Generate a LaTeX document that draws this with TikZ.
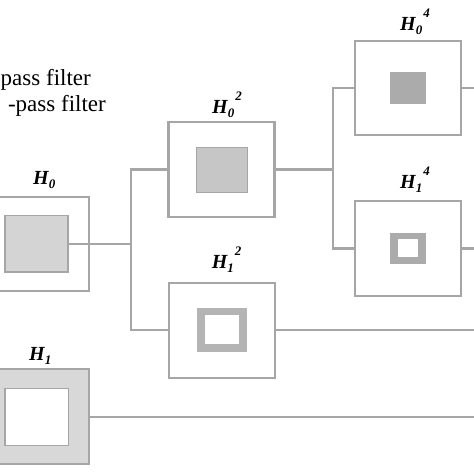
\documentclass[tikz,border=0pt]{standalone}
\usepackage{fontspec}
\setmainfont{Liberation Serif}
\definecolor{linegray}{HTML}{A6A6A6}
\definecolor{fillA}{HTML}{D4D4D4}
\definecolor{fillB}{HTML}{C6C6C6}
\definecolor{fillC}{HTML}{ABABAB}
\definecolor{fillD}{HTML}{B4B4B4}
\definecolor{fillE}{HTML}{D8D8D8}
\newcommand{\lsub}[1]{\raisebox{-0.22em}{\fontsize{13}{13}\selectfont #1}}
\newcommand{\lsup}[1]{\raisebox{0.62em}{\fontsize{13}{13}\selectfont #1}}
\begin{document}
\begin{tikzpicture}[x=1pt,y=-1pt,
  outerbox/.style={draw=linegray,line width=2.1pt,fill=white,minimum width=106pt,minimum height=94.5pt,inner sep=0pt},
  innerbox/.style={draw=linegray,line width=1.3pt,inner sep=0pt},
  wire/.style={draw=linegray,line width=2.1pt},
  hlabel/.style={anchor=base west,inner sep=0pt,font=\fontsize{20}{20}\selectfont\bfseries\itshape},
  legend/.style={anchor=base east,inner sep=0pt,font=\fontsize{23}{23}\selectfont}]
\useasboundingbox (0,0) rectangle (474,474);
\clip (0,0) rectangle (474,474);

% legend text
\node[legend] (lp) at (91,85.7) {pass filter};
\node[legend] (hp) at (106,111.7) {-pass filter};

% H0 level 1
\node[outerbox] (H0) at (36,243.85) {};
\node[innerbox,fill=fillA,minimum width=63pt,minimum height=56.3pt] (H0in) at (36.5,243.85) {};
\node[hlabel] (H0l) at (33,184) {H\lsub{0}};

% H1 level 1
\node[outerbox,fill=fillE,minimum height=95.3pt] (H1) at (36,416.7) {};
\node[innerbox,fill=white,minimum width=63.3pt,minimum height=57.4pt] (H1in) at (36.6,417) {};
\node[hlabel] (H1l) at (29,360) {H\lsub{1}};

% level 2
\node[outerbox] (H02) at (221.5,169.5) {};
\node[innerbox,fill=fillB,minimum width=50.6pt,minimum height=44.6pt] (H02in) at (222,170) {};
\node[hlabel] (H02l) at (212,113.3) {H\lsub{0}\kern1pt\lsup{2}};

\node[outerbox,minimum height=95pt] (H12) at (221.6,330.2) {};
\node[draw=none,fill=fillD,minimum width=50.6pt,minimum height=44pt,inner sep=0pt] (H12in) at (222,330.3) {};
\node[draw=none,fill=white,minimum width=34.3pt,minimum height=29pt,inner sep=0pt] (H12w) at (222.2,329.8) {};
\node[hlabel] (H12l) at (211.7,268.3) {H\lsub{1}\kern1pt\lsup{2}};

% level 4
\node[outerbox] (H04) at (407.8,88) {};
\node[draw=none,fill=fillC,minimum width=36pt,minimum height=31.7pt,inner sep=0pt] (H04in) at (408,88.2) {};
\node[hlabel] (H04l) at (400,30) {H\lsub{0}\kern1pt\lsup{4}};

\node[outerbox] (H14) at (407.8,248.5) {};
\node[draw=none,fill=fillC,minimum width=36pt,minimum height=31.3pt,inner sep=0pt] (H14in) at (408,248.3) {};
\node[draw=none,fill=white,minimum width=19.4pt,minimum height=18pt,inner sep=0pt] (H14w) at (408,248.3) {};
\node[hlabel] (H14l) at (400,188.3) {H\lsub{1}\kern1pt\lsup{4}};

% junction coordinates
\coordinate (j1) at (130.6,243.85);
\coordinate (j1t) at (130.6,169.5);
\coordinate (j1b) at (130.6,330.2);
\coordinate (j2) at (333.3,169.5);
\coordinate (j2t) at (333.3,88);
\coordinate (j2b) at (333.3,248.5);
\coordinate (e04) at (474,88);
\coordinate (e14) at (474,248.5);
\coordinate (e12) at (474,330.2);
\coordinate (e1) at (474,416.7);

% connectors
\draw[wire] (H0in.east) -- (j1);
\draw[wire] (H02.west) -- (j1t) -- (j1b) -- (H12.west);
\draw[wire] (H02.east) -- (j2);
\draw[wire] (H04.west) -- (j2t) -- (j2b) -- (H14.west);
\draw[wire] (H04.east) -- (e04);
\draw[wire] (H14.east) -- (e14);
\draw[wire] (H12.east) -- (e12);
\draw[wire] (H1.east) -- (e1);
\end{tikzpicture}
\end{document}
